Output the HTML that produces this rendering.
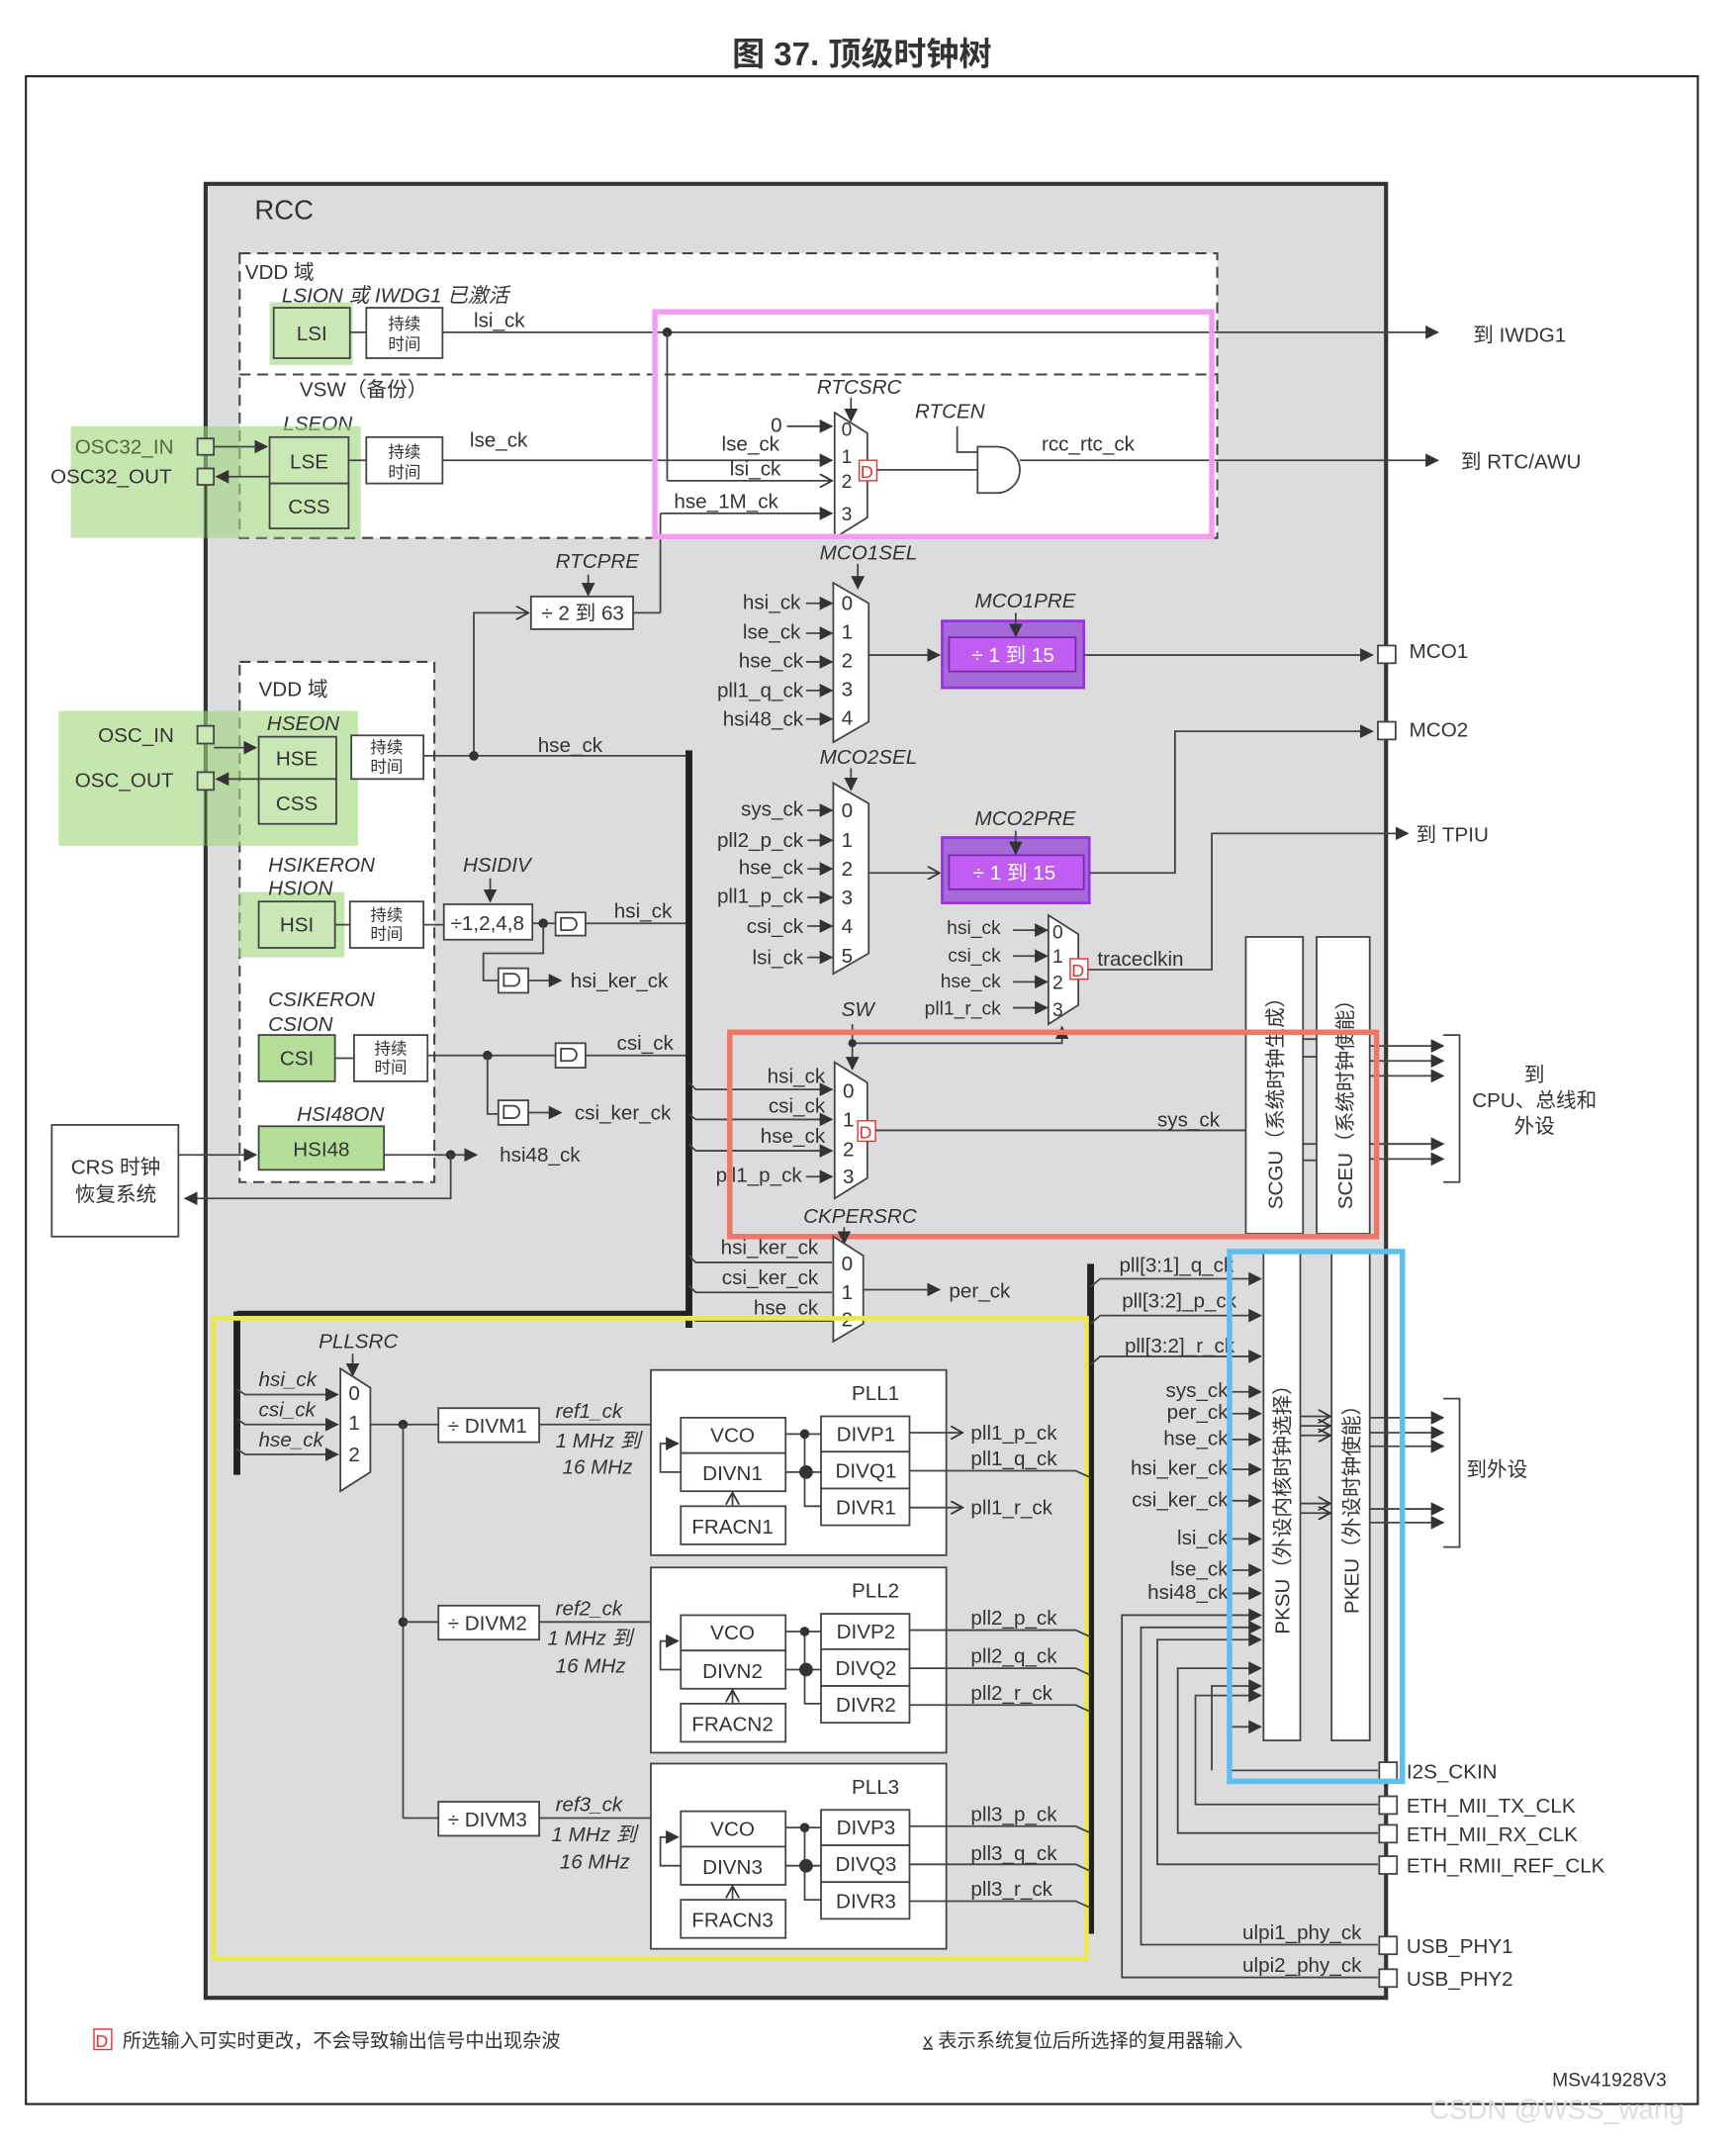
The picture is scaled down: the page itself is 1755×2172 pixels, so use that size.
<!DOCTYPE html>
<html><head><meta charset="utf-8"><style>
html,body{margin:0;padding:0;background:#fff;}
svg{display:block;}
text{font-family:"Liberation Sans","Noto Sans CJK SC",sans-serif;fill:#333;}
.i{font-style:italic;}
.b{fill:#fff;stroke:#444;stroke-width:1.3;}
.l{stroke:#444;stroke-width:1.3;fill:none;}
.g{fill:#9fd67a;fill-opacity:.6;stroke:none;}
</style></head><body>
<svg width="1755" height="2172" viewBox="0 0 1275 1578" xmlns="http://www.w3.org/2000/svg">
<defs>
<marker id="a" markerWidth="10" markerHeight="10" refX="9" refY="5" orient="auto" markerUnits="userSpaceOnUse"><path d="M0,0L10,5L0,10z" fill="#333"/></marker>
<marker id="o" markerWidth="10" markerHeight="10" refX="9" refY="5" orient="auto" markerUnits="userSpaceOnUse"><path d="M0,0L9,5L0,10" fill="none" stroke="#333" stroke-width="1.3"/></marker>
</defs>
<rect width="1275" height="1578" fill="#fff"/>
<text x="633" y="48" font-size="24" font-weight="bold" text-anchor="middle" fill="#111">图 37. 顶级时钟树</text>
<rect x="19" y="56" width="1228" height="1489" fill="none" stroke="#222" stroke-width="1.5"/>
<rect x="151" y="135" width="867" height="1332" fill="#dcdcde" stroke="#333" stroke-width="3"/>
<text x="187" y="161" font-size="20">RCC</text>
<rect x="176" y="186" width="718" height="209" fill="#fff" stroke="#444" stroke-width="1.5" stroke-dasharray="8,5"/>
<line x1="176" y1="275" x2="894" y2="275" stroke="#444" stroke-width="1.5" stroke-dasharray="8,5"/>
<text x="180" y="205" font-size="15">VDD 域</text>
<text x="207" y="222" font-size="15" class="i">LSION 或 IWDG1 已激活</text>
<text x="220" y="291" font-size="15">VSW（备份）</text>
<text x="208" y="316" font-size="15" class="i">LSEON</text>
<rect class="g" x="198" y="222" width="61" height="46"/>
<rect class="g" x="52" y="313" width="213" height="82"/>
<rect class="b" x="201" y="226" width="56" height="37" style="fill:#c9e8b5"/><text x="229" y="250" font-size="15" text-anchor="middle">LSI</text>
<rect class="b" x="269" y="226" width="56" height="37"/><text x="297" y="242" font-size="12" text-anchor="middle">持续</text><text x="297" y="257" font-size="12" text-anchor="middle">时间</text>
<line class="l" x1="257" y1="244" x2="269" y2="244"/>
<line class="l" x1="325" y1="244" x2="1056" y2="244" marker-end="url(#a)"/>
<text x="348" y="240" font-size="15">lsi_ck</text>
<circle cx="490" cy="244" r="3.5" fill="#333"/>
<text x="1082" y="251" font-size="15">到 IWDG1</text>
<rect class="b" x="198" y="321" width="58" height="34" style="fill:#c9e8b5"/><text x="227" y="344" font-size="15" text-anchor="middle">LSE</text>
<rect class="b" x="198" y="355" width="58" height="33" style="fill:#c9e8b5"/><text x="227" y="377" font-size="15" text-anchor="middle">CSS</text>
<rect class="b" x="269" y="321" width="56" height="34"/><text x="297" y="336" font-size="12" text-anchor="middle">持续</text><text x="297" y="351" font-size="12" text-anchor="middle">时间</text>
<line class="l" x1="256" y1="338" x2="269" y2="338"/>
<rect class="b" x="145" y="322" width="12" height="12" style="fill:#c9e8b5"/><rect class="b" x="145" y="344" width="12" height="12" style="fill:#c9e8b5"/>
<line class="l" x1="157" y1="328" x2="196" y2="328" marker-end="url(#a)"/>
<line class="l" x1="198" y1="350" x2="159" y2="350" marker-end="url(#a)"/>
<line class="l" x1="151" y1="356" x2="151" y2="395"/>
<text x="55" y="333" font-size="15" style="fill:#4d6b3a">OSC32_IN</text><text x="37" y="355" font-size="15">OSC32_OUT</text>
<line class="l" x1="325" y1="338" x2="611" y2="338" marker-end="url(#a)"/>
<text x="345" y="328" font-size="15">lse_ck</text>
<text x="530" y="331" font-size="15">lse_ck</text>
<line class="l" x1="490" y1="244" x2="490" y2="353" /><line class="l" x1="490" y1="353" x2="611" y2="353" marker-end="url(#o)"/>
<text x="536" y="349" font-size="15">lsi_ck</text>
<text x="566" y="317" font-size="15">0</text><line class="l" x1="578" y1="313" x2="611" y2="313" marker-end="url(#a)"/>
<text x="495" y="373" font-size="15">hse_1M_ck</text>
<line class="l" x1="485" y1="450" x2="485" y2="377"/><line class="l" x1="485" y1="377" x2="611" y2="377" marker-end="url(#a)"/>
<polygon class="b" points="613,303 637,318 637,380 613,395"/>
<text x="618" y="320" font-size="14">0</text><text x="618" y="340" font-size="14">1</text><text x="618" y="358" font-size="14">2</text><text x="618" y="382" font-size="14">3</text>
<text x="600" y="289" font-size="15" class="i">RTCSRC</text>
<line class="l" x1="625" y1="292" x2="625" y2="309" marker-end="url(#a)"/>
<rect x="631" y="338" width="13" height="15" fill="#fff" stroke="#d33" stroke-width="1"/><text x="632" y="351" font-size="13" style="fill:#d33">D</text>
<line class="l" x1="644" y1="345" x2="718" y2="345"/>
<path class="b" d="M718,328 h14 a17,17 0 0 1 0,34 h-14 z"/>
<text x="672" y="307" font-size="15" class="i">RTCEN</text>
<polyline class="l" points="703,313 703,332 718,332"/>
<line class="l" x1="749" y1="338" x2="1056" y2="338" marker-end="url(#a)"/>
<text x="765" y="331" font-size="15">rcc_rtc_ck</text>
<text x="1073" y="344" font-size="15">到 RTC/AWU</text>
<rect x="481" y="229" width="409" height="165" fill="none" stroke="#f29cf2" stroke-width="4"/>
<text x="408" y="417" font-size="15" class="i">RTCPRE</text>
<line class="l" x1="432" y1="422" x2="432" y2="437" marker-end="url(#a)"/>
<rect class="b" x="390" y="438" width="75" height="24"/><text x="428" y="455" font-size="15" text-anchor="middle">÷ 2 到 63</text>
<line class="l" x1="465" y1="450" x2="485" y2="450"/>
<polyline class="l" points="348,555 348,450 388,450" marker-end="url(#o)"/>
<text x="602" y="411" font-size="15" class="i">MCO1SEL</text>
<line class="l" x1="630" y1="414" x2="630" y2="432" marker-end="url(#a)"/>
<polygon class="b" points="612,428 638,443 638,530 612,545"/>
<g font-size="15"><text x="618" y="448">0</text><text x="618" y="469">1</text><text x="618" y="490">2</text><text x="618" y="511">3</text><text x="618" y="532">4</text>
<text x="588" y="447" text-anchor="end">hsi_ck</text><text x="588" y="469" text-anchor="end">lse_ck</text><text x="590" y="490" text-anchor="end">hse_ck</text><text x="590" y="512" text-anchor="end">pll1_q_ck</text><text x="590" y="533" text-anchor="end">hsi48_ck</text></g>
<line class="l" x1="592" y1="443" x2="611" y2="443" marker-end="url(#a)"/><line class="l" x1="592" y1="465" x2="611" y2="465" marker-end="url(#a)"/><line class="l" x1="592" y1="486" x2="611" y2="486" marker-end="url(#a)"/><line class="l" x1="592" y1="507" x2="611" y2="507" marker-end="url(#a)"/><line class="l" x1="592" y1="528" x2="611" y2="528" marker-end="url(#a)"/>
<line class="l" x1="638" y1="481" x2="690" y2="481" marker-end="url(#a)"/>
<text x="716" y="446" font-size="15" class="i">MCO1PRE</text>
<rect x="692" y="456" width="104" height="49" fill="#a56ad8" stroke="#9b30e0" stroke-width="2"/>
<rect x="697" y="468" width="93" height="25" fill="#c15df0" stroke="#7a28b0" stroke-width="1.3"/>
<text x="744" y="486" font-size="15" text-anchor="middle" style="fill:#fff">÷ 1 到 15</text>
<line class="l" x1="746" y1="450" x2="746" y2="467" marker-end="url(#a)"/>
<line class="l" x1="796" y1="481" x2="1008" y2="481" marker-end="url(#a)"/>
<rect class="b" x="1012" y="474" width="13" height="13"/><text x="1035" y="483" font-size="15">MCO1</text>
<text x="602" y="561" font-size="15" class="i">MCO2SEL</text>
<line class="l" x1="625" y1="564" x2="625" y2="580" marker-end="url(#a)"/>
<polygon class="b" points="612,575 638,590 638,700 612,715"/>
<g font-size="15"><text x="618" y="600">0</text><text x="618" y="622">1</text><text x="618" y="643">2</text><text x="618" y="664">3</text><text x="618" y="685">4</text><text x="618" y="707">5</text>
<text x="590" y="599" text-anchor="end">sys_ck</text><text x="590" y="622" text-anchor="end">pll2_p_ck</text><text x="590" y="642" text-anchor="end">hse_ck</text><text x="590" y="663" text-anchor="end">pll1_p_ck</text><text x="590" y="685" text-anchor="end">csi_ck</text><text x="590" y="708" text-anchor="end">lsi_ck</text></g>
<line class="l" x1="593" y1="595" x2="611" y2="595" marker-end="url(#a)"/><line class="l" x1="593" y1="617" x2="611" y2="617" marker-end="url(#a)"/><line class="l" x1="593" y1="638" x2="611" y2="638" marker-end="url(#a)"/><line class="l" x1="593" y1="659" x2="611" y2="659" marker-end="url(#a)"/><line class="l" x1="593" y1="680" x2="611" y2="680" marker-end="url(#a)"/><line class="l" x1="593" y1="703" x2="611" y2="703" marker-end="url(#a)"/>
<line class="l" x1="638" y1="641" x2="690" y2="641" marker-end="url(#o)"/>
<text x="716" y="606" font-size="15" class="i">MCO2PRE</text>
<rect x="692" y="615" width="108" height="48" fill="#a56ad8" stroke="#9b30e0" stroke-width="2"/>
<rect x="697" y="628" width="99" height="25" fill="#c15df0" stroke="#7a28b0" stroke-width="1.3"/>
<text x="745" y="646" font-size="15" text-anchor="middle" style="fill:#fff">÷ 1 到 15</text>
<line class="l" x1="746" y1="610" x2="746" y2="627" marker-end="url(#a)"/>
<polyline class="l" points="800,641 863,641 863,537 1008,537" marker-end="url(#a)"/>
<rect class="b" x="1012" y="530" width="13" height="13"/><text x="1035" y="541" font-size="15">MCO2</text>
<polyline class="l" points="792,712 890,712 890,612 1034,612" marker-end="url(#a)"/>
<text x="1040" y="618" font-size="15">到 TPIU</text>
<polygon class="b" points="770,672 792,686 792,738 770,752"/>
<g font-size="14"><text x="773" y="689">0</text><text x="773" y="707">1</text><text x="773" y="726">2</text><text x="773" y="746">3</text>
<text x="735" y="686" text-anchor="end">hsi_ck</text><text x="735" y="706" text-anchor="end">csi_ck</text><text x="735" y="725" text-anchor="end">hse_ck</text><text x="735" y="745" text-anchor="end">pll1_r_ck</text></g>
<line class="l" x1="744" y1="683" x2="769" y2="683" marker-end="url(#a)"/><line class="l" x1="744" y1="702" x2="769" y2="702" marker-end="url(#a)"/><line class="l" x1="744" y1="721" x2="769" y2="721" marker-end="url(#a)"/><line class="l" x1="744" y1="740" x2="769" y2="740" marker-end="url(#a)"/>
<rect x="786" y="704" width="13" height="15" fill="#fff" stroke="#d33" stroke-width="1"/><text x="787" y="717" font-size="13" style="fill:#d33">D</text>
<text x="806" y="709" font-size="15">traceclkin</text>
<rect x="176" y="486" width="143" height="382" fill="#fff" stroke="#444" stroke-width="1.5" stroke-dasharray="8,5"/>
<text x="190" y="511" font-size="15">VDD 域</text>
<rect class="g" x="43" y="522" width="220" height="99"/>
<rect class="g" x="175" y="655" width="78" height="48"/>
<text x="196" y="536" font-size="15" class="i">HSEON</text>
<rect class="b" x="190" y="541" width="57" height="31" style="fill:#c9e8b5"/><text x="218" y="562" font-size="15" text-anchor="middle">HSE</text>
<rect class="b" x="190" y="572" width="57" height="33" style="fill:#c9e8b5"/><text x="218" y="595" font-size="15" text-anchor="middle">CSS</text>
<rect class="b" x="258" y="540" width="53" height="32"/><text x="284" y="553" font-size="12" text-anchor="middle">持续</text><text x="284" y="567" font-size="12" text-anchor="middle">时间</text>
<rect class="b" x="145" y="533" width="12" height="13" style="fill:#c9e8b5"/><rect class="b" x="145" y="567" width="12" height="13" style="fill:#c9e8b5"/>
<line class="l" x1="157" y1="549" x2="188" y2="549" marker-end="url(#a)"/>
<line class="l" x1="190" y1="572" x2="159" y2="572" marker-end="url(#a)"/>
<line class="l" x1="151" y1="580" x2="151" y2="622"/>
<text x="72" y="545" font-size="15">OSC_IN</text><text x="55" y="578" font-size="15">OSC_OUT</text>
<line class="l" x1="311" y1="555" x2="504" y2="555"/><circle cx="348" cy="555" r="3.5" fill="#333"/>
<text x="395" y="552" font-size="15">hse_ck</text>
<text x="197" y="640" font-size="15" class="i">HSIKERON</text><text x="197" y="657" font-size="15" class="i">HSION</text>
<rect class="b" x="190" y="662" width="56" height="34" style="fill:#c9e8b5"/><text x="218" y="684" font-size="15" text-anchor="middle">HSI</text>
<rect class="b" x="257" y="662" width="54" height="34"/><text x="284" y="676" font-size="12" text-anchor="middle">持续</text><text x="284" y="690" font-size="12" text-anchor="middle">时间</text>
<line class="l" x1="246" y1="679" x2="257" y2="679"/><line class="l" x1="311" y1="679" x2="326" y2="679"/>
<text x="340" y="640" font-size="15" class="i">HSIDIV</text>
<line class="l" x1="360" y1="645" x2="360" y2="662" marker-end="url(#a)"/>
<rect class="b" x="326" y="664" width="65" height="26"/><text x="358" y="683" font-size="15" text-anchor="middle">÷1,2,4,8</text>
<line class="l" x1="391" y1="678" x2="408" y2="678"/><circle cx="399" cy="678" r="3.5" fill="#333"/>
<rect class="b" x="408" y="670" width="22" height="17"/><path class="l" d="M412,674h7a4,4 0 0 1 0,9h-7z"/>
<line class="l" x1="430" y1="678" x2="504" y2="678"/><text x="451" y="674" font-size="15">hsi_ck</text>
<polyline class="l" points="399,678 399,700 355,700 355,720 366,720"/>
<rect class="b" x="366" y="711" width="22" height="18"/><path class="l" d="M370,715h7a4,4 0 0 1 0,9h-7z"/>
<line class="l" x1="388" y1="720" x2="412" y2="720" marker-end="url(#a)"/><text x="419" y="725" font-size="15">hsi_ker_ck</text>
<text x="197" y="739" font-size="15" class="i">CSIKERON</text><text x="197" y="757" font-size="15" class="i">CSION</text>
<rect class="b" x="190" y="760" width="56" height="34" style="fill:#b5df98"/><text x="218" y="782" font-size="15" text-anchor="middle">CSI</text>
<rect class="b" x="260" y="760" width="54" height="34"/><text x="287" y="774" font-size="12" text-anchor="middle">持续</text><text x="287" y="788" font-size="12" text-anchor="middle">时间</text>
<line class="l" x1="246" y1="777" x2="260" y2="777"/>
<line class="l" x1="314" y1="775" x2="408" y2="775"/><circle cx="358" cy="775" r="3.5" fill="#333"/>
<rect class="b" x="408" y="766" width="22" height="18"/><path class="l" d="M412,770h7a4,4 0 0 1 0,9h-7z"/>
<line class="l" x1="430" y1="775" x2="504" y2="775"/><text x="453" y="771" font-size="15">csi_ck</text>
<polyline class="l" points="358,775 358,818 366,818"/>
<rect class="b" x="366" y="808" width="22" height="18"/><path class="l" d="M370,812h7a4,4 0 0 1 0,9h-7z"/>
<line class="l" x1="388" y1="817" x2="412" y2="817" marker-end="url(#a)"/><text x="422" y="822" font-size="15">csi_ker_ck</text>
<text x="218" y="823" font-size="15" class="i">HSI48ON</text>
<rect class="b" x="190" y="827" width="92" height="32" style="fill:#b5df98"/><text x="236" y="849" font-size="15" text-anchor="middle">HSI48</text>
<line class="l" x1="282" y1="848" x2="350" y2="848" marker-end="url(#a)"/><circle cx="331" cy="848" r="3.5" fill="#333"/>
<text x="367" y="853" font-size="15">hsi48_ck</text>
<polyline class="l" points="331,848 331,880 136,880" marker-end="url(#a)"/>
<rect class="b" x="38" y="826" width="93" height="82"/>
<text x="85" y="862" font-size="15" text-anchor="middle">CRS 时钟</text><text x="85" y="882" font-size="15" text-anchor="middle">恢复系统</text>
<line class="l" x1="131" y1="848" x2="188" y2="848" marker-end="url(#a)"/>
<line x1="506" y1="551" x2="506" y2="975" stroke="#222" stroke-width="5"/>
<line x1="174" y1="965" x2="506" y2="965" stroke="#222" stroke-width="5"/>
<line x1="174" y1="963" x2="174" y2="1083" stroke="#222" stroke-width="5"/>
<line x1="801" y1="928" x2="801" y2="1420" stroke="#222" stroke-width="5"/>
<text x="618" y="746" font-size="15" class="i">SW</text>
<line class="l" x1="626" y1="752" x2="626" y2="785" marker-end="url(#a)"/>
<polyline class="l" points="626,766 780,766 780,754" marker-end="url(#a)"/>
<circle cx="626" cy="766" r="3" fill="#333"/>
<polygon class="b" points="613,780 637,795 637,865 613,880"/>
<g font-size="15"><text x="619" y="806">0</text><text x="619" y="827">1</text><text x="619" y="849">2</text><text x="619" y="869">3</text>
<text x="606" y="795" text-anchor="end">hsi_ck</text><text x="606" y="817" text-anchor="end">csi_ck</text><text x="606" y="839" text-anchor="end">hse_ck</text><text x="589" y="868" text-anchor="end">pll1_p_ck</text></g>
<polyline class="l" points="506,795 511,800 611,800" marker-end="url(#a)"/><polyline class="l" points="506,818 511,822 611,822" marker-end="url(#a)"/><polyline class="l" points="506,840 511,845 611,845" marker-end="url(#a)"/>
<line class="l" x1="592" y1="864" x2="611" y2="864" marker-end="url(#a)"/>
<rect x="630" y="823" width="13" height="15" fill="#fff" stroke="#d33" stroke-width="1"/><text x="631" y="836" font-size="13" style="fill:#d33">D</text>
<line class="l" x1="643" y1="830" x2="915" y2="830"/><text x="850" y="827" font-size="15">sys_ck</text>
<rect class="b" x="915" y="688" width="42" height="218"/><rect class="b" x="967" y="688" width="39" height="218"/>
<text transform="translate(942,888) rotate(-90)" font-size="15">SCGU（系统时钟生成）</text>
<text transform="translate(993,888) rotate(-90)" font-size="15">SCEU（系统时钟使能）</text>
<g class="l"><line x1="957" y1="763" x2="967" y2="763"/><line x1="957" y1="776" x2="967" y2="776"/><line x1="957" y1="840" x2="967" y2="840"/><line x1="957" y1="852" x2="967" y2="852"/></g>
<line class="l" x1="1006" y1="768" x2="1060" y2="768" marker-end="url(#a)"/><line class="l" x1="1006" y1="779" x2="1060" y2="779" marker-end="url(#a)"/><line class="l" x1="1006" y1="790" x2="1060" y2="790" marker-end="url(#a)"/><line class="l" x1="1006" y1="840" x2="1060" y2="840" marker-end="url(#a)"/><line class="l" x1="1006" y1="851" x2="1060" y2="851" marker-end="url(#a)"/>
<polyline class="l" points="1060,760 1072,760 1072,868 1060,868"/>
<text x="1127" y="794" font-size="15" text-anchor="middle">到</text><text x="1127" y="813" font-size="15" text-anchor="middle">CPU、总线和</text><text x="1127" y="832" font-size="15" text-anchor="middle">外设</text>
<rect x="536" y="758" width="475" height="150" fill="none" stroke="#ee7766" stroke-width="4"/>
<text x="590" y="898" font-size="15" class="i">CKPERSRC</text>
<line class="l" x1="620" y1="901" x2="620" y2="913" marker-end="url(#a)"/>
<polygon class="b" points="612,908 634,922 634,972 612,985"/>
<g font-size="15"><text x="618" y="933">0</text><text x="618" y="954">1</text><text x="618" y="974">2</text>
<text x="601" y="921" text-anchor="end">hsi_ker_ck</text><text x="601" y="943" text-anchor="end">csi_ker_ck</text><text x="601" y="965" text-anchor="end">hse_ck</text></g>
<polyline class="l" points="506,922 511,927 611,927"/><polyline class="l" points="506,944 511,949 611,949"/><polyline class="l" points="506,966 511,970 611,970"/>
<line class="l" x1="634" y1="947" x2="690" y2="947" marker-end="url(#a)"/><text x="697" y="953" font-size="15">per_ck</text>
<text x="234" y="990" font-size="15" class="i">PLLSRC</text>
<line class="l" x1="259" y1="994" x2="259" y2="1010" marker-end="url(#a)"/>
<polygon class="b" points="250,1005 272,1019 272,1081 250,1095"/>
<g font-size="15"><text x="256" y="1028">0</text><text x="256" y="1050">1</text><text x="256" y="1073">2</text></g>
<g font-size="15" class="i"><text x="190" y="1018">hsi_ck</text><text x="190" y="1040">csi_ck</text><text x="190" y="1062">hse_ck</text></g>
<polyline class="l" points="174,1020 180,1024 248,1024" marker-end="url(#a)"/><polyline class="l" points="174,1042 180,1046 248,1046" marker-end="url(#a)"/><polyline class="l" points="174,1064 180,1068 248,1068" marker-end="url(#a)"/>
<line class="l" x1="272" y1="1046" x2="322" y2="1046"/><circle cx="296" cy="1046" r="3.5" fill="#333"/>
<line class="l" x1="296" y1="1046" x2="296" y2="1335"/>
<circle cx="296" cy="1191" r="3.5" fill="#333"/>
<line class="l" x1="296" y1="1191" x2="322" y2="1191"/><line class="l" x1="296" y1="1335" x2="322" y2="1335"/>
<rect x="157" y="968" width="641" height="470" fill="none" stroke="#eaea50" stroke-width="3.5"/>
<g id="p1">
<rect class="b" x="322" y="1034" width="74" height="25"/>
<line class="l" x1="396" y1="1046" x2="498" y2="1046" marker-end="url(#a)"/>
<rect class="b" x="478" y="1006" width="217" height="136"/>
<rect class="b" x="500" y="1041" width="77" height="26"/><text x="538" y="1059" font-size="15" text-anchor="middle">VCO</text>
<rect class="b" x="500" y="1067" width="77" height="28"/>
<rect class="b" x="500" y="1106" width="77" height="28"/>
<line class="l" x1="538" y1="1106" x2="538" y2="1096" marker-end="url(#o)"/>
<polyline class="l" points="500,1081 485,1081 485,1060 498,1060" marker-end="url(#a)"/>
<rect class="b" x="603" y="1040" width="65" height="26"/>
<rect class="b" x="603" y="1066" width="65" height="27"/>
<rect class="b" x="603" y="1093" width="65" height="27"/>
<line class="l" x1="577" y1="1053" x2="603" y2="1053"/><line class="l" x1="577" y1="1081" x2="603" y2="1081"/>
<polyline class="l" points="591,1053 591,1106 603,1106"/>
<circle cx="591" cy="1053" r="3.5" fill="#333"/><circle cx="592" cy="1081" r="5" fill="#333"/>
</g>
<use href="#p1" transform="translate(0,145)"/>
<use href="#p1" transform="translate(0,289)"/>
<g font-size="15" text-anchor="middle">
<text x="358" y="1052">÷ DIVM1</text><text x="358" y="1197">÷ DIVM2</text><text x="358" y="1341">÷ DIVM3</text>
<text x="643" y="1028">PLL1</text><text x="643" y="1173">PLL2</text><text x="643" y="1317">PLL3</text>
<text x="538" y="1087">DIVN1</text><text x="538" y="1232">DIVN2</text><text x="538" y="1376">DIVN3</text>
<text x="538" y="1126">FRACN1</text><text x="538" y="1271">FRACN2</text><text x="538" y="1415">FRACN3</text>
<text x="636" y="1058">DIVP1</text><text x="636" y="1085">DIVQ1</text><text x="636" y="1112">DIVR1</text>
<text x="636" y="1203">DIVP2</text><text x="636" y="1230">DIVQ2</text><text x="636" y="1257">DIVR2</text>
<text x="636" y="1347">DIVP3</text><text x="636" y="1374">DIVQ3</text><text x="636" y="1401">DIVR3</text>
</g>
<g font-size="15" class="i">
<text x="408" y="1041">ref1_ck</text><text x="408" y="1063">1 MHz 到</text><text x="413" y="1082">16 MHz</text>
<text x="408" y="1186">ref2_ck</text><text x="402" y="1208">1 MHz 到</text><text x="408" y="1228">16 MHz</text>
<text x="408" y="1330">ref3_ck</text><text x="405" y="1352">1 MHz 到</text><text x="411" y="1372">16 MHz</text>
</g>
<g font-size="15">
<line class="l" x1="668" y1="1052" x2="707" y2="1052" marker-end="url(#o)"/><text x="713" y="1057">pll1_p_ck</text>
<polyline class="l" points="668,1080 790,1080 801,1085"/><text x="713" y="1076">pll1_q_ck</text>
<line class="l" x1="668" y1="1107" x2="707" y2="1107" marker-end="url(#o)"/><text x="713" y="1112">pll1_r_ck</text>
<polyline class="l" points="668,1197 790,1197 801,1202"/><text x="713" y="1193">pll2_p_ck</text>
<polyline class="l" points="668,1225 790,1225 801,1230"/><text x="713" y="1221">pll2_q_ck</text>
<polyline class="l" points="668,1252 790,1252 801,1257"/><text x="713" y="1248">pll2_r_ck</text>
<polyline class="l" points="668,1341 790,1341 801,1346"/><text x="713" y="1337">pll3_p_ck</text>
<polyline class="l" points="668,1369 790,1369 801,1374"/><text x="713" y="1366">pll3_q_ck</text>
<polyline class="l" points="668,1396 790,1396 801,1401"/><text x="713" y="1392">pll3_r_ck</text>
</g>
<rect class="b" x="928" y="920" width="27" height="358"/><rect class="b" x="978" y="920" width="28" height="358"/>
<text transform="translate(947,1200) rotate(-90)" font-size="15">PKSU（外设内核时钟选择）</text>
<text transform="translate(998,1185) rotate(-90)" font-size="15">PKEU（外设时钟使能）</text>
<g font-size="15">
<polyline class="l" points="801,945 808,939 926,939" marker-end="url(#a)"/><text x="822" y="934">pll[3:1]_q_ck</text>
<polyline class="l" points="801,972 808,966 926,966" marker-end="url(#a)"/><text x="824" y="960">pll[3:2]_p_ck</text>
<polyline class="l" points="801,1002 808,996 926,996" marker-end="url(#a)"/><text x="826" y="993">pll[3:2]_r_ck</text>
<text x="902" y="1026" text-anchor="end">sys_ck</text><text x="902" y="1042" text-anchor="end">per_ck</text><text x="902" y="1061" text-anchor="end">hse_ck</text><text x="902" y="1083" text-anchor="end">hsi_ker_ck</text><text x="902" y="1106" text-anchor="end">csi_ker_ck</text><text x="902" y="1134" text-anchor="end">lsi_ck</text><text x="902" y="1157" text-anchor="end">lse_ck</text><text x="902" y="1174" text-anchor="end">hsi48_ck</text>
</g>
<g class="l">
<line x1="905" y1="1022" x2="926" y2="1022" marker-end="url(#a)"/><line x1="905" y1="1038" x2="926" y2="1038" marker-end="url(#a)"/><line x1="905" y1="1057" x2="926" y2="1057" marker-end="url(#a)"/><line x1="905" y1="1079" x2="926" y2="1079" marker-end="url(#a)"/><line x1="905" y1="1102" x2="926" y2="1102" marker-end="url(#a)"/><line x1="905" y1="1130" x2="926" y2="1130" marker-end="url(#a)"/><line x1="905" y1="1153" x2="926" y2="1153" marker-end="url(#a)"/><line x1="905" y1="1170" x2="926" y2="1170" marker-end="url(#a)"/>
<polyline points="955,1040 977,1040" marker-end="url(#o)"/><polyline points="955,1047 977,1047" marker-end="url(#o)"/><polyline points="955,1054 977,1054" marker-end="url(#o)"/>
<polyline points="955,1104 977,1104" marker-end="url(#o)"/><polyline points="955,1111 977,1111" marker-end="url(#o)"/>
<line x1="1006" y1="1041" x2="1060" y2="1041" marker-end="url(#a)"/><line x1="1006" y1="1052" x2="1060" y2="1052" marker-end="url(#a)"/><line x1="1006" y1="1062" x2="1060" y2="1062" marker-end="url(#a)"/><line x1="1006" y1="1108" x2="1060" y2="1108" marker-end="url(#a)"/><line x1="1006" y1="1118" x2="1060" y2="1118" marker-end="url(#a)"/>
<polyline points="1060,1027 1072,1027 1072,1136 1060,1136"/>
<polyline points="1012,1300 903,1300 903,1268 926,1268" marker-end="url(#a)"/>
<polyline points="1012,1325 878,1325 878,1245 926,1245" marker-end="url(#a)"/>
<polyline points="1012,1346 865,1346 865,1225 926,1225" marker-end="url(#a)"/>
<polyline points="1012,1369 850,1369 850,1204 926,1204" marker-end="url(#a)"/>
<polyline points="1012,1428 838,1428 838,1195 926,1195" marker-end="url(#a)"/>
<polyline points="1012,1452 824,1452 824,1186 926,1186" marker-end="url(#a)"/>
<polyline points="890,1300 890,1238 926,1238" marker-end="url(#a)"/>
</g>
<g font-size="15">
<rect class="b" x="1013" y="1294" width="13" height="13"/><text x="1033" y="1306">I2S_CKIN</text>
<rect class="b" x="1013" y="1319" width="13" height="13"/><text x="1033" y="1331">ETH_MII_TX_CLK</text>
<rect class="b" x="1013" y="1340" width="13" height="13"/><text x="1033" y="1352">ETH_MII_RX_CLK</text>
<rect class="b" x="1013" y="1363" width="13" height="13"/><text x="1033" y="1375">ETH_RMII_REF_CLK</text>
<rect class="b" x="1013" y="1422" width="13" height="13"/><text x="1033" y="1434">USB_PHY1</text>
<rect class="b" x="1013" y="1446" width="13" height="13"/><text x="1033" y="1458">USB_PHY2</text>
<text x="1000" y="1424" text-anchor="end">ulpi1_phy_ck</text><text x="1000" y="1448" text-anchor="end">ulpi2_phy_ck</text>
<text x="1077" y="1084">到外设</text>
</g>
<rect x="903" y="919" width="127" height="389" fill="none" stroke="#5bc0ee" stroke-width="4"/>
<rect x="69" y="1490" width="13" height="15" fill="#fff" stroke="#d33" stroke-width="1"/><text x="70" y="1503" font-size="13" style="fill:#d33">D</text>
<text x="90" y="1503" font-size="14">所选输入可实时更改，不会导致输出信号中出现杂波</text>
<text x="678" y="1503" font-size="14"><tspan text-decoration="underline">x</tspan> 表示系统复位后所选择的复用器输入</text>
<text x="1140" y="1532" font-size="14">MSv41928V3</text>
<text x="1050" y="1556" font-size="20" style="fill:#ddd">CSDN @WSS_wang</text>
</svg>
</body></html>
